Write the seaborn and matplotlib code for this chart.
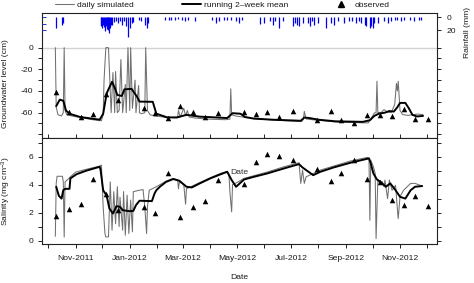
import matplotlib
matplotlib.use("Agg")
import matplotlib.pyplot as plt
import matplotlib.dates as mdates
from matplotlib.lines import Line2D
from matplotlib.ticker import FixedLocator, NullFormatter
import pandas as pd
import seaborn as sns

# ---------------- data ----------------
gw_sim_dates = ['2011-10-09', '2011-10-10', '2011-10-12', '2011-10-16', '2011-10-18', '2011-10-19',
                '2011-10-20', '2011-10-22', '2011-10-30', '2011-11-10', '2011-11-20', '2011-11-30',
                '2011-12-02', '2011-12-03', '2011-12-05', '2011-12-08', '2011-12-09', '2011-12-11',
                '2011-12-13', '2011-12-15', '2011-12-16', '2011-12-18', '2011-12-20', '2011-12-22',
                '2011-12-24', '2011-12-27', '2011-12-28', '2011-12-30', '2012-01-01', '2012-01-02',
                '2012-01-04', '2012-01-07', '2012-01-08', '2012-01-11', '2012-01-12', '2012-01-14',
                '2012-01-18', '2012-01-19', '2012-01-21', '2012-01-24', '2012-01-30', '2012-02-13',
                '2012-02-24', '2012-02-25', '2012-02-27', '2012-03-02', '2012-03-04', '2012-03-06',
                '2012-03-08', '2012-03-15', '2012-03-30', '2012-04-18', '2012-04-23', '2012-04-24',
                '2012-04-25', '2012-04-29', '2012-05-07', '2012-05-20', '2012-06-15', '2012-07-13',
                '2012-07-15', '2012-07-16', '2012-07-18', '2012-07-25', '2012-08-23', '2012-09-26',
                '2012-09-29', '2012-10-03', '2012-10-05', '2012-10-06', '2012-10-07', '2012-10-11',
                '2012-10-14', '2012-10-18', '2012-10-22', '2012-10-26', '2012-10-28', '2012-10-29',
                '2012-10-30', '2012-11-01', '2012-11-04', '2012-11-10', '2012-11-17', '2012-11-21',
                '2012-11-27']
gw_sim = [0, -55, -62, -63, -60, 0,
          -58, -62, -63.5, -65, -66.5, -67.5,
          -62, -30, 0, 0, -20, -60,
          -23, -60, -22, -60, -58, -11,
          -60, -34, -60, 0, -58, 0,
          -56, -30, -60, -35, -60, -61,
          -60, 0, -58, -62, -63, -64.7,
          -64, -58, -64, -56, -63, -58,
          -64, -65, -66, -66.5, -66, -38,
          -62, -63, -64, -65.5, -67, -68.2,
          -66, -58.8, -65.8, -66.5, -68.8, -69.5,
          -66, -60.3, -60, -31, -60, -59.7,
          -57.2, -59.5, -60, -52.6, -33, -40,
          -31, -58, -61.8, -62.5, -61.8, -61.3,
          -61.8]

gw_mean_dates = ['2011-10-10', '2011-10-14', '2011-10-18', '2011-10-21', '2011-10-25', '2011-11-06',
                 '2011-11-28', '2011-12-02', '2011-12-06', '2011-12-12', '2011-12-15', '2011-12-18',
                 '2011-12-23', '2011-12-26', '2012-01-03', '2012-01-09', '2012-01-12', '2012-01-27',
                 '2012-01-31', '2012-02-12', '2012-02-23', '2012-03-05', '2012-03-20', '2012-04-04',
                 '2012-04-20', '2012-04-26', '2012-05-05', '2012-05-10', '2012-05-20', '2012-06-10',
                 '2012-07-12', '2012-07-16', '2012-07-22', '2012-08-01', '2012-08-20', '2012-09-20',
                 '2012-09-28', '2012-10-03', '2012-10-08', '2012-10-15', '2012-10-20', '2012-10-25',
                 '2012-10-29', '2012-11-01', '2012-11-07', '2012-11-11', '2012-11-15', '2012-11-20',
                 '2012-11-27']
gw_mean = [-54, -48, -49, -58, -61, -64,
           -66.5, -61, -42, -31.5, -37, -43.7,
           -44.6, -38.5, -38, -45, -49.8, -50,
           -61, -64.3, -64.5, -62, -63.7, -64.3,
           -65, -60.5, -61, -64, -65.5, -66.5,
           -67.5, -64.5, -65, -66.5, -68, -68.5,
           -67, -63, -61, -60, -58.5, -59,
           -55, -51, -51, -56, -62, -63.5,
           -63]

obs_dates = ['2011-10-10', '2011-10-24', '2011-11-07', '2011-11-21', '2011-12-05', '2011-12-19',
             '2012-01-17', '2012-01-30', '2012-02-13', '2012-02-27', '2012-03-12', '2012-03-26',
             '2012-04-10', '2012-05-09', '2012-05-22', '2012-06-04', '2012-06-18', '2012-07-03',
             '2012-07-30', '2012-08-15', '2012-08-26', '2012-09-10', '2012-09-25', '2012-10-09',
             '2012-10-23', '2012-11-06', '2012-11-18', '2012-12-03']
obs_gw = [-41.2, -59, -63.7, -61.5, -43, -48.5,
          -56, -60.6, -65, -54, -59.3, -63.8,
          -60, -59, -61.2, -59, -63.7, -58.2,
          -67, -58.2, -67, -70, -62.2, -62,
          -63, -57, -65.5, -65.5]
obs_sal = [1.74, 2.29, 2.58, 4.38, 3.32, 2.17,
           2.41, 2.0, 4.85, 1.69, 2.41, 2.84,
           4.33, 4.04, 5.6, 6.19, 6.07, 5.76,
           5.1, 4.26, 4.85, 5.76, 4.38, 4.2,
           2.9, 2.53, 3.18, 2.48]

sal_sim_dates = ['2011-10-09', '2011-10-10', '2011-10-11', '2011-10-17', '2011-10-18', '2011-10-19',
                 '2011-10-20', '2011-10-23', '2011-10-26', '2011-11-01', '2011-11-13', '2011-11-28',
                 '2011-11-30', '2011-12-02', '2011-12-04', '2011-12-05', '2011-12-08', '2011-12-10',
                 '2011-12-12', '2011-12-14', '2011-12-16', '2011-12-18', '2011-12-20', '2011-12-21',
                 '2011-12-24', '2011-12-25', '2011-12-27', '2011-12-29', '2011-12-31', '2012-01-02',
                 '2012-01-04', '2012-01-05', '2012-01-12', '2012-01-16', '2012-01-18', '2012-01-20',
                 '2012-01-21', '2012-01-23', '2012-01-31', '2012-02-11', '2012-02-19', '2012-02-24',
                 '2012-02-25', '2012-02-26', '2012-03-02', '2012-03-04', '2012-03-05', '2012-03-08',
                 '2012-03-20', '2012-04-01', '2012-04-12', '2012-04-20', '2012-04-22', '2012-04-23',
                 '2012-04-25', '2012-04-26', '2012-05-01', '2012-05-09', '2012-06-04', '2012-06-23',
                 '2012-07-10', '2012-07-12', '2012-07-14', '2012-07-16', '2012-07-18', '2012-07-26',
                 '2012-08-03', '2012-08-18', '2012-09-06', '2012-09-25', '2012-09-27', '2012-09-28',
                 '2012-09-29', '2012-10-02', '2012-10-04', '2012-10-05', '2012-10-07', '2012-10-09',
                 '2012-10-12', '2012-10-14', '2012-10-15', '2012-10-18', '2012-10-20', '2012-10-23',
                 '2012-10-27', '2012-10-29', '2012-10-30', '2012-11-01', '2012-11-05', '2012-11-13',
                 '2012-11-18', '2012-11-26']
sal_sim = [0.3, 4.1, 4.6, 4.6, 4.2, 0.25,
           4.2, 4.37, 4.56, 4.9, 5.1, 5.33,
           5.4, 2.4, 0.5, 0.26, 0.26, 4.2,
           0.74, 3.5, 1.2, 3.85, 1.0, 3.1,
           0.74, 3.5, 0.38, 3.25, 0.5, 2.9,
           0.62, 3.5, 3.6, 3.65, 2.4, 0.5,
           2.4, 3.6, 3.85, 4.25, 4.45, 4.35,
           3.7, 4.2, 4.0, 2.6, 3.7, 3.8,
           4.15, 4.5, 4.8, 4.95, 4.7, 3.5,
           2.05, 4.0, 4.15, 4.45, 4.9, 5.28,
           5.57, 4.09, 5.04, 4.09, 4.56, 4.8,
           5.04, 5.33, 5.69, 5.95, 5.88, 1.45,
           5.76, 5.28, 4.8, 0.14, 4.33, 4.09,
           4.2, 3.85, 4.33, 3.0, 4.33, 3.6,
           3.95, 2.29, 1.57, 3.13, 3.6, 4.09,
           4.09, 3.9]

sal_mean_dates = ['2011-10-10', '2011-10-13', '2011-10-16', '2011-10-18', '2011-10-20', '2011-10-25',
                  '2011-10-26', '2011-11-02', '2011-11-13', '2011-11-28', '2011-11-29', '2011-12-02',
                  '2011-12-06', '2011-12-09', '2011-12-13', '2011-12-17', '2011-12-21', '2011-12-24',
                  '2012-01-01', '2012-01-05', '2012-01-08', '2012-01-12', '2012-01-26', '2012-01-29',
                  '2012-01-31', '2012-02-04', '2012-02-11', '2012-02-19', '2012-02-26', '2012-03-05',
                  '2012-03-11', '2012-03-20', '2012-04-01', '2012-04-12', '2012-04-20', '2012-04-25',
                  '2012-04-30', '2012-05-09', '2012-05-20', '2012-06-04', '2012-06-23', '2012-07-10',
                  '2012-07-14', '2012-07-26', '2012-08-03', '2012-08-18', '2012-09-06', '2012-09-27',
                  '2012-09-29', '2012-10-02', '2012-10-06', '2012-10-10', '2012-10-16', '2012-10-21',
                  '2012-10-27', '2012-11-01', '2012-11-07', '2012-11-13', '2012-11-18', '2012-11-26']
sal_mean = [3.85, 3.2, 3.0, 3.6, 3.7, 3.7,
            4.45, 4.75, 5.0, 5.28, 5.1, 3.6,
            3.2, 2.3, 1.93, 2.46, 2.41, 2.17,
            2.1, 2.12, 2.53, 2.85, 2.82, 3.37,
            3.6, 3.85, 4.2, 4.4, 4.28, 3.85,
            3.8, 4.09, 4.45, 4.73, 4.92, 4.33,
            3.85, 4.37, 4.56, 4.8, 5.16, 5.47,
            5.23, 4.68, 4.92, 5.23, 5.57, 5.88,
            5.52, 4.8, 4.37, 4.2, 3.85, 4.09,
            3.6, 3.13, 3.0, 3.6, 3.85, 3.9]

rain_dates = ['2011-10-10', '2011-10-17', '2011-10-18', '2011-11-29', '2011-11-30', '2011-12-01',
              '2011-12-02', '2011-12-03', '2011-12-04', '2011-12-05', '2011-12-06', '2011-12-07',
              '2011-12-08', '2011-12-09', '2011-12-10', '2011-12-11', '2011-12-12', '2011-12-14',
              '2011-12-16', '2011-12-19', '2011-12-21', '2011-12-23', '2011-12-25', '2011-12-28',
              '2011-12-30', '2012-01-01', '2012-01-03', '2012-01-05', '2012-01-11', '2012-01-14',
              '2012-01-18', '2012-01-20', '2012-01-22', '2012-02-10', '2012-02-14', '2012-02-17',
              '2012-02-21', '2012-02-25', '2012-02-29', '2012-03-03', '2012-03-07', '2012-03-15',
              '2012-04-03', '2012-04-07', '2012-04-11', '2012-04-16', '2012-04-20', '2012-04-24',
              '2012-04-30', '2012-05-03', '2012-05-07', '2012-05-27', '2012-06-01', '2012-06-07',
              '2012-06-11', '2012-06-13', '2012-06-18', '2012-06-22', '2012-07-03', '2012-07-05',
              '2012-07-08', '2012-07-10', '2012-07-14', '2012-07-20', '2012-07-22', '2012-07-25',
              '2012-07-27', '2012-07-31', '2012-08-09', '2012-08-15', '2012-08-19', '2012-08-23',
              '2012-08-30', '2012-09-04', '2012-09-08', '2012-09-12', '2012-09-16', '2012-09-18',
              '2012-09-22', '2012-09-24', '2012-09-28', '2012-09-29', '2012-10-01', '2012-10-03',
              '2012-10-07', '2012-10-14', '2012-10-18', '2012-10-22', '2012-10-26', '2012-10-29',
              '2012-11-02', '2012-11-06', '2012-11-12', '2012-11-17', '2012-11-23', '2012-11-25']
rain_mm = [16, 11, 8.5, 13.5, 12, 16,
           11, 15, 21, 13.5, 17, 18.5,
           20, 24, 16, 12, 11, 7.5,
           6, 8.5, 6, 11, 6, 13.5,
           30, 16, 8.5, 7.5, 4.5, 6,
           11, 16, 8.5, 3.5, 4.5, 3.5,
           4.5, 3, 4.5, 6, 3.5, 6,
           4.5, 8.5, 6, 3.5, 4.5, 3.5,
           6, 8.5, 4.5, 10, 8.5, 6,
           11, 6, 16, 6, 13.5, 8.5,
           11, 13.5, 8.5, 8.5, 13.5, 6,
           11, 8.5, 16, 8.5, 11, 6,
           8.5, 6, 6, 8.5, 6, 8.5,
           11, 13.5, 16, 13.5, 16, 8.5,
           8.5, 6, 8.5, 6, 3.5, 4.5,
           6, 3.5, 3.5, 6, 3.5, 3.5]

legend_labels = ['daily simulated', 'running 2\u2013week mean', 'observed']

# ---------------- style ----------------
sns.set_style("ticks")
plt.rcParams['font.family'] = ['Liberation Sans', 'DejaVu Sans']
plt.rcParams['axes.unicode_minus'] = False
plt.rcParams['mathtext.default'] = 'regular'

FS = 6.1
TXT = '#1a1a1a'
SPINE = '#222222'
GRAY = '#707070'

fig = plt.figure(figsize=(4.74, 2.83), dpi=100)
ax = fig.add_axes([0.08797, 0.51237, 0.83333, 0.44170])
axb = fig.add_axes([0.08797, 0.13675, 0.83333, 0.37562])

gw_sim_x = pd.to_datetime(gw_sim_dates)
gw_mean_x = pd.to_datetime(gw_mean_dates)
obs_x = pd.to_datetime(obs_dates)
sal_sim_x = pd.to_datetime(sal_sim_dates)
sal_mean_x = pd.to_datetime(sal_mean_dates)
rain_x = pd.to_datetime(rain_dates)

# ---- top panel: groundwater ----
ax.axhline(0, color='#d2d2d2', lw=1.0, zorder=0.5)
sns.lineplot(x=gw_sim_x, y=gw_sim, ax=ax, color=GRAY, lw=0.75,
             estimator=None, sort=False)
sns.lineplot(x=gw_mean_x, y=gw_mean, ax=ax, color='black', lw=1.4,
             estimator=None, sort=False)
sns.scatterplot(x=obs_x, y=obs_gw, ax=ax, marker='^', s=16, color='black',
                linewidth=0, zorder=5)

ax2 = ax.twinx()
ax2.vlines(rain_x, 0, rain_mm, color='#0000ee', lw=0.9)
ax2.set_ylim(182.9, -6.5)

xmin = pd.Timestamp('2011-09-23 15:00')
xmax = pd.Timestamp('2012-12-12 10:00')

# ---- bottom panel: salinity ----
sns.lineplot(x=sal_sim_x, y=sal_sim, ax=axb, color=GRAY, lw=0.75,
             estimator=None, sort=False)
sns.lineplot(x=sal_mean_x, y=sal_mean, ax=axb, color='black', lw=1.4,
             estimator=None, sort=False)
sns.scatterplot(x=obs_x, y=obs_sal, ax=axb, marker='^', s=16, color='black',
                linewidth=0, zorder=5)

for a in (ax, axb):
    a.set_xlim(xmin, xmax)
    a.xaxis.set_major_locator(mdates.MonthLocator(bymonth=[1, 3, 5, 7, 9, 11]))
    a.xaxis.set_minor_locator(mdates.MonthLocator())
    a.xaxis.set_major_formatter(mdates.DateFormatter('%b-%Y'))
    a.xaxis.set_minor_formatter(NullFormatter())
    for s in a.spines.values():
        s.set_visible(True)
        s.set_color(SPINE)
        s.set_linewidth(0.8)
    a.set_xlabel('')
    a.set_ylabel('')

ax.tick_params(axis='x', which='both', bottom=True, top=False, labelbottom=False,
               direction='out', length=3, width=0.7, color=SPINE)
axb.tick_params(axis='x', which='both', bottom=True, top=True, labelbottom=True,
                labeltop=False, direction='out', length=3, width=0.7, color=SPINE,
                pad=5, labelsize=FS, labelcolor=TXT)

ax.set_ylim(-83.4, 32)
ax.yaxis.set_major_locator(FixedLocator([-60, -40, -20, 0]))
ax.yaxis.set_minor_locator(FixedLocator([-80, -70, -50, -30, -10]))
ax.tick_params(axis='y', which='both', left=True, right=True, labelleft=True,
               labelright=False, direction='out', length=3, width=0.7, color=SPINE,
               pad=3, labelsize=FS, labelcolor=TXT)

axb.set_ylim(-0.27, 7.34)
axb.yaxis.set_major_locator(FixedLocator([0, 2, 4, 6]))
axb.yaxis.set_minor_locator(FixedLocator([1, 3, 5, 7]))
axb.tick_params(axis='y', which='both', left=True, right=True, labelleft=True,
                labelright=False, direction='out', length=3, width=0.7, color=SPINE,
                pad=3, labelsize=FS, labelcolor=TXT)

# rainfall axis ticks
for s in ax2.spines.values():
    s.set_visible(False)
ax2.yaxis.set_major_locator(FixedLocator([0, 20]))
ax2.yaxis.set_minor_locator(FixedLocator([0, 10, 20]))
ax2.yaxis.remove_overlapping_locs = False
ax2.yaxis.set_minor_formatter(NullFormatter())
ax2.tick_params(axis='y', which='major', left=False, right=True, labelleft=False,
                labelright=True, direction='out', length=3, width=0.7, color=SPINE,
                pad=4, labelsize=FS, labelcolor=TXT)
ax2.tick_params(axis='y', which='minor', left=True, right=False, direction='in',
                length=3, width=0.7, color='#2233cc')
ax2.set_ylabel('Rainfall (mm)', fontsize=FS, color=TXT)
ax2.yaxis.set_label_coords(1.069, 0.848)

# labels
ax.set_ylabel('Groundwater level (cm)', fontsize=FS, color=TXT)
ax.yaxis.set_label_coords(-0.084, 0.432)
axb.set_ylabel('Salinity (mg cm$^{-3}$)', fontsize=FS, color=TXT)
axb.yaxis.set_label_coords(-0.072, 0.5)
axb.set_xlabel('Date', fontsize=FS, color=TXT)
axb.xaxis.set_label_coords(0.5, -0.275)
axb.text(0.5, 0.674, 'Date', transform=axb.transAxes, ha='center', va='center',
         fontsize=FS, color='#333333')

# legend (three entries spread across the top)
handles = [Line2D([], [], color=GRAY, lw=0.75),
           Line2D([], [], color='black', lw=1.4),
           Line2D([], [], color='black', marker='^', ls='none', markersize=4.2)]
anchors = [55 / 474, 182 / 474, 331.7 / 474]
for h, lab, xa in zip(handles, legend_labels, anchors):
    fig.legend(handles=[h], labels=[lab], loc='center left', bbox_to_anchor=(xa, 0.982),
               frameon=False, fontsize=FS, handlelength=2.2, handletextpad=0.45,
               borderpad=0, borderaxespad=0, labelcolor=TXT)

fig.savefig('out.png', dpi=100)
